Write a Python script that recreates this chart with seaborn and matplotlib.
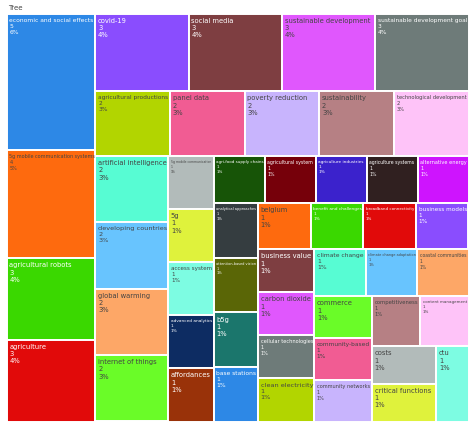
import matplotlib
matplotlib.use("Agg")
import matplotlib.pyplot as plt
import seaborn as sns

# keywords in the order they are tiled
labels = [
    "economic and social effects", "5g mobile communication systems", "agricultural robots", "agriculture",
    "covid-19", "social media", "sustainable development", "sustainable development goal",
    "agricultural productions", "panel data", "poverty reduction", "sustainability", "technological development",
    "artificial intelligence", "developing countries", "global warming", "internet of things",
    "5g mobile communication", "5g", "access system", "advanced analytics", "affordances",
    "agri-food supply chains", "agricultural system", "agriculture industries", "agriculture systems", "alternative energy",
    "analytical approaches", "attention-based vision", "b5g", "base stations",
    "belgium", "benefit and challenges", "broadband connectivity", "business models",
    "business value", "carbon dioxide", "cellular technologies", "clean electricity",
    "climate change", "climate change adaptation", "coastal communities",
    "commerce", "community-based", "community networks",
    "competitiveness", "content management",
    "costs", "critical functions",
    "ctu",
]
counts = [
    5, 4, 3, 3,
    3, 3, 3, 3,
    2, 2, 2, 2, 2,
    2, 2, 2, 2,
    1, 1, 1, 1, 1,
    1, 1, 1, 1, 1,
    1, 1, 1, 1,
    1, 1, 1, 1,
    1, 1, 1, 1,
    1, 1, 1,
    1, 1, 1,
    1, 1,
    1, 1,
    1,
]

# how the tiles are grouped into strips, and the strip direction (v = column, h = row)
strip_sizes = [4, 4, 5, 4, 5, 5, 4, 4, 4, 3, 3, 2, 2, 1]
strip_dirs = ["v", "h", "h", "v", "v", "h", "v", "h", "v", "h", "v", "h", "v", "v"]

blue, orange, green, red = "#2D88E6", "#FE6A0E", "#3AD800", "#E10A0A"
purple, brown, magenta, grey = "#8A4DFE", "#7E3E41", "#E057FD", "#6E7B79"
lime, aqua, ltblue, peach = "#B2D500", "#57FCD3", "#68C4FE", "#FDA767"
ltgreen, pink, lavender, mauve = "#6AFC28", "#F15C93", "#C8B4FD", "#B68084"
ltpink, ltgrey, yellow, ltaqua = "#FEC3F8", "#B2BBBA", "#DFF23C", "#7DFCE2"
navy, rust, dkgreen, dkred = "#0D2C62", "#993209", "#175407", "#76000A"
indigo, dkbrown, violet, slate = "#3B22CC", "#302020", "#CE14FE", "#353D40"
olive, teal = "#5A6606", "#1B766C"

fills = [
    blue, orange, green, red,
    purple, brown, magenta, grey,
    lime, pink, lavender, mauve, ltpink,
    aqua, ltblue, peach, ltgreen,
    ltgrey, yellow, ltaqua, navy, rust,
    dkgreen, dkred, indigo, dkbrown, violet,
    slate, olive, teal, blue,
    orange, green, red, purple,
    brown, magenta, grey, lime,
    aqua, ltblue, peach,
    ltgreen, pink, lavender,
    mauve, ltpink,
    ltgrey, yellow,
    ltaqua,
]
white_text = {blue, green, red, purple, brown, grey, navy, rust, dkgreen,
              dkred, indigo, dkbrown, violet, slate, olive, teal}


def strip_layout(values, sizes, dirs):
    # unit square, y measured downwards from the top
    x0, y0, x1, y1 = 0.0, 0.0, 1.0, 1.0
    rest = float(sum(values))
    rects = []
    i = 0
    for n, d in zip(sizes, dirs):
        group = values[i:i + n]
        s = sum(group)
        if d == "v":
            w = (x1 - x0) * s / rest
            y = y0
            for v in group:
                h = (y1 - y0) * v / s
                rects.append((x0, y, w, h))
                y += h
            x0 += w
        else:
            h = (y1 - y0) * s / rest
            x = x0
            for v in group:
                w = (x1 - x0) * v / s
                rects.append((x, y0, w, h))
                x += w
            y0 += h
        rest -= s
        i += n
    return rects


sns.set_style("white")
plt.rcParams["font.family"] = ["DejaVu Sans"]

W, H = 474, 431
fig = plt.figure(figsize=(W / 100, H / 100), dpi=100)
ax = fig.add_axes([6.5 / W, 8.5 / H, 462 / W, 408 / H])

rects = strip_layout(counts, strip_sizes, strip_dirs)
xs = [r[0] for r in rects]
ys = [r[1] for r in rects]
ws = [r[2] for r in rects]
hs = [r[3] for r in rects]

ax.bar(xs, hs, width=ws, bottom=ys, align="edge", color=fills,
       edgecolor="white", linewidth=1.4)
ax.set_xlim(0, 1)
ax.set_ylim(1, 0)
ax.axis("off")

total = sum(counts)
renderer = fig.canvas.get_renderer()
max_fs = 4.9
for (x, y, w, h), name, c, col in zip(rects, labels, counts, fills):
    txt = f"{name}\n{c}\n{round(100 * c / total)}%"
    tcol = "white" if col in white_text else "#444444"
    t = ax.annotate(txt, xy=(x, y), xytext=(2.0, -2.2), textcoords="offset points",
                    ha="left", va="top", fontsize=max_fs, color=tcol, linespacing=1.25)
    bb = t.get_window_extent(renderer)
    p0 = ax.transData.transform((x, y))
    p1 = ax.transData.transform((x + w, y + h))
    avail_w = abs(p1[0] - p0[0]) - 5
    avail_h = abs(p1[1] - p0[1]) - 5
    scale = min(1.0, avail_w / bb.width, avail_h / bb.height)
    if scale < 1.0:
        t.set_fontsize(max_fs * scale)

fig.text(8 / W, 1 - 8 / H, "Tree", ha="left", va="center", fontsize=5, color="#444444")

fig.savefig("out.png", dpi=100)
